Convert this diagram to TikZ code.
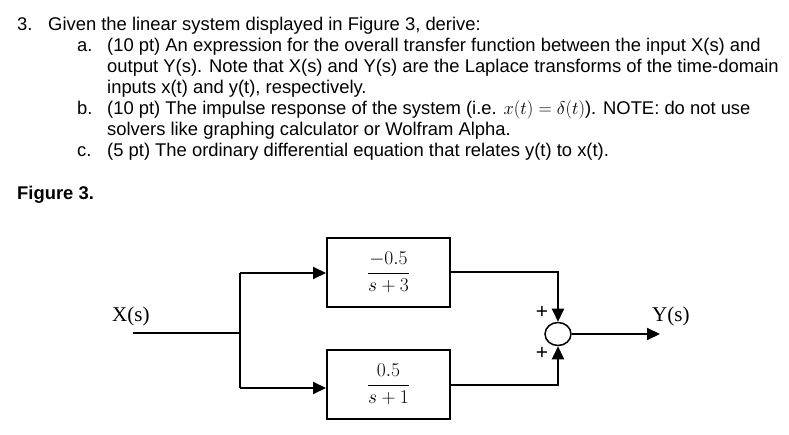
\RequirePackage{fix-cm}
\documentclass[tikz,border=0pt]{standalone}
\usepackage{amsmath}
\usepackage{fontspec}
\setmainfont{Liberation Sans}
\newfontfamily\tnrfont{Liberation Serif}
\usepackage{tikz}
\usetikzlibrary{arrows.meta,shapes.geometric}

\begin{document}
\begin{tikzpicture}[x=1pt,y=-1pt,
  txt/.style={anchor=base west,inner sep=0pt,font=\fontsize{18.4}{21}\selectfont},
  sigtxt/.style={anchor=base west,inner sep=0pt,font=\tnrfont\fontsize{21}{24}\selectfont},
  blk/.style={draw,rectangle,line width=2pt,minimum width=123pt,minimum height=69pt,inner sep=0pt,font=\fontsize{19.5}{22}\selectfont},
  sig/.style={line width=2pt,-{Triangle[length=13pt,width=12pt]}},
  pls/.style={inner sep=0pt,font=\fontsize{21}{21}\selectfont}]
\useasboundingbox (0,0) rectangle (789,435);

% 题目
\node[txt] (qnum) at (17,31) {3.};
\node[txt] (qtxt) at (48,31) {Given the linear system displayed in Figure 3, derive:};
\node[txt] (la) at (77,52) {a.};
\node[txt] (ta1) at (107,52) {(10 pt) An expression for the overall transfer function between the input X(s) and};
\node[txt] (ta2) at (107,73) {output Y(s). Note that X(s) and Y(s) are the Laplace transforms of the time-domain};
\node[txt] (ta3) at (107,94) {inputs x(t) and y(t), respectively.};
\node[txt] (lb) at (77,115) {b.};
\node[txt] (tb1) at (107,115) {(10 pt) The impulse response of the system (i.e. $x(t)=\delta(t)$). NOTE: do not use};
\node[txt] (tb2) at (107,136) {solvers like graphing calculator or Wolfram Alpha.};
\node[txt] (lc) at (77,157) {c.};
\node[txt] (tc1) at (107,157) {(5 pt) The ordinary differential equation that relates y(t) to x(t).};
\node[txt,font=\fontsize{18.4}{21}\selectfont\bfseries] (fig) at (17,200) {Figure 3.};

% 方框图
\node[sigtxt] (xs) at (112,322) {X(s)};
\coordinate (xin) at (133,333);
\coordinate (split) at (240,333);
\coordinate (splitT) at (240,273);
\coordinate (splitB) at (240,388);
\node[blk] (g1) at (388.5,272.5) {$\dfrac{-0.5}{s+3}$};
\node[blk] (g2) at (388.5,384.5) {$\dfrac{0.5}{s+1}$};
\node[draw,ellipse,line width=1.5pt,minimum width=26pt,minimum height=23pt,inner sep=0pt] (sum) at (558,334) {};
\coordinate (yout) at (660,334);
\node[sigtxt] (ys) at (652,322) {Y(s)};

% 连接线
\draw[line width=1.5pt] (xin) -- (split);
\draw[line width=2pt] (splitT) -- (splitB);
\draw[sig] (splitT) -- (splitT -| g1.west);
\draw[sig] (splitB) -- (splitB -| g2.west);
\draw[sig] (g1.east) -| (sum.north);
\draw[sig] (g2.east) -| (sum.south);
\draw[sig] (sum.east) -- (yout);

% 符号
\node[pls] (p1) at (542,312) {+};
\node[pls] (p2) at (542,353) {+};
\end{tikzpicture}
\end{document}
